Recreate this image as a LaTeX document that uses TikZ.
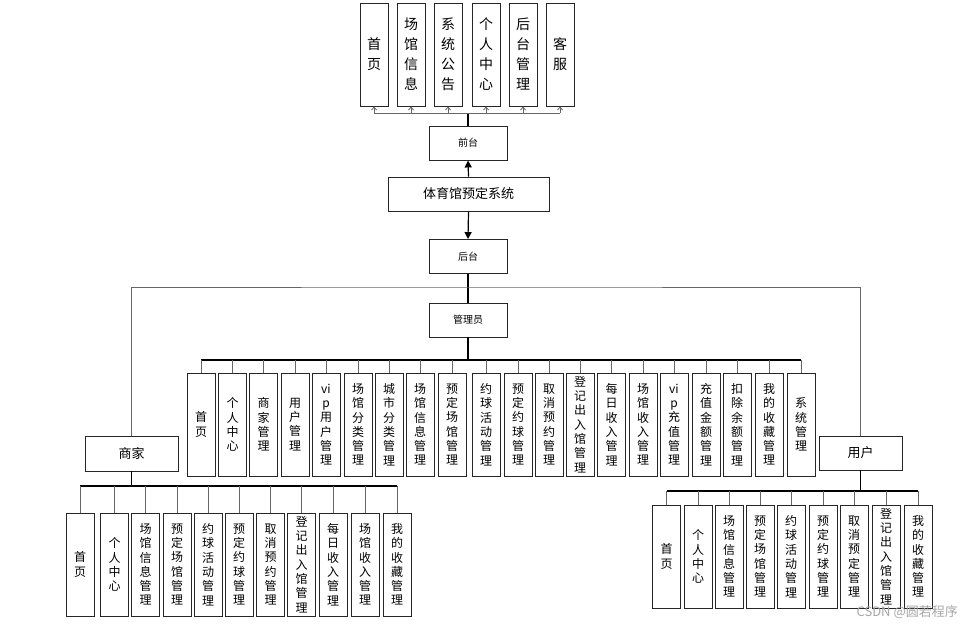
\documentclass[tikz,border=0pt]{standalone}
\usepackage{fontspec}
\setmainfont{Noto Sans CJK SC}
\usetikzlibrary{arrows.meta}
\begin{document}
\begin{tikzpicture}[x=1pt,y=-1pt,
  box/.style={draw=black!85,line width=0.9pt,fill=white,inner sep=0pt,align=center},
  vb/.style={box,minimum width=28pt,minimum height=103pt,font=\fontsize{12}{14.3}\selectfont},
  tb/.style={box,minimum width=28pt,minimum height=103pt,font=\fontsize{14}{20}\selectfont},
  sb/.style={box,minimum width=78pt,minimum height=34pt,font=\fontsize{10}{12}\selectfont},
  trunk/.style={line width=1.2pt,black},
  br/.style={line width=0.8pt,black!60}]
\useasboundingbox (0,0) rectangle (973,629);
% top
\foreach \x/\t [count=\i] in {360/首\\页,397/场\\馆\\信\\息,434/系\\统\\公\\告,472/个\\人\\中\\心,509/后\\台\\管\\理,546/客\\服}
  \node[tb] (t\i) at (\x+14,54.5) {\t};
\node[sb] (qt) at (468,143) {前台};
\node[box,minimum width=161pt,minimum height=34pt,font=\fontsize{13}{15}\selectfont] (sys) at (468.5,194) {体育馆预定系统};
\node[sb] (ht) at (468,256.5) {后台};
\node[sb] (gly) at (468,320) {管理员};
\node[box,minimum width=93pt,minimum height=35pt,font=\fontsize{13}{15}\selectfont] (sj) at (131.5,453.5) {商家};
\node[box,minimum width=83pt,minimum height=34pt,font=\fontsize{13}{15}\selectfont] (yh) at (860.5,453) {用户};
\coordinate (tbus) at (468,113);
\draw[trunk] (qt.north) -- (tbus);
\draw[br] (t1.south |- tbus) -- (t6.south |- tbus);
\foreach \i in {1,...,6} \draw[br,-{Straight Barb[length=3pt,width=5pt]}] (t\i.south |- tbus) -- (t\i.south);
\draw[trunk,-{Triangle[length=7pt,width=7pt]}] (sys.north) -- (qt.south);
\draw[trunk,-{Triangle[length=7pt,width=7pt]}] (sys.south) -- (ht.north);
\coordinate (hbus) at (468,287);
\draw[trunk] (ht.south) -- (gly.north);
\draw[br] (sj.north) |- (hbus) -| (yh.north);
% admin
\coordinate (abus) at (468,360);
\foreach \x/\t [count=\i] in {187/首\\页,218.5/个\\人\\中\\心,249.7/商\\家\\管\\理,281/用\\户\\管\\理,312/vi\\p\\用\\户\\管\\理,344/场\\馆\\分\\类\\管\\理,375/城\\市\\分\\类\\管\\理,406/场\\馆\\信\\息\\管\\理,438/预\\定\\场\\馆\\管\\理,472/约\\球\\活\\动\\管\\理,504/预\\定\\约\\球\\管\\理,535/取\\消\\预\\约\\管\\理,566/登\\记\\出\\入\\馆\\管\\理,597.6/每\\日\\收\\入\\管\\理,629/场\\馆\\收\\入\\管\\理,660/vi\\p\\充\\值\\管\\理,692/充\\值\\金\\额\\管\\理,723/扣\\除\\余\\额\\管\\理,755/我\\的\\收\\藏\\管\\理,787/系\\统\\管\\理}
  \node[vb] (a\i) at (\x+14,424.5) {\t};
\draw[trunk] (gly.south) -- (abus);
\draw[trunk] (a1.north |- abus) -- (a20.north |- abus);
\foreach \i in {1,...,20} \draw[br] (a\i.north |- abus) -- (a\i.north);
% merchant
\coordinate (sbus) at (133,486);
\foreach \x/\t [count=\i] in {66/首\\页,100.7/个\\人\\中\\心,131.7/场\\馆\\信\\息\\管\\理,163/预\\定\\场\\馆\\管\\理,194/约\\球\\活\\动\\管\\理,225/预\\定\\约\\球\\管\\理,256.7/取\\消\\预\\约\\管\\理,287.7/登\\记\\出\\入\\馆\\管\\理,319/每\\日\\收\\入\\管\\理,351/场\\馆\\收\\入\\管\\理,383/我\\的\\收\\藏\\管\\理}
  \node[vb] (m\i) at (\x+14,564.5) {\t};
\draw[trunk] (sj.south) -- (sj.south |- sbus);
\draw[trunk] (m1.north |- sbus) -- (m11.north |- sbus);
\foreach \i in {1,...,11} \draw[br] (m\i.north |- sbus) -- (m\i.north);
% user
\coordinate (ubus) at (860,491);
\foreach \x/\t [count=\i] in {652.7/首\\页,684/个\\人\\中\\心,715/场\\馆\\信\\息\\管\\理,746/预\\定\\场\\馆\\管\\理,777/约\\球\\活\\动\\管\\理,809/预\\定\\约\\球\\管\\理,840/取\\消\\预\\定\\管\\理,872/登\\记\\出\\入\\馆\\管\\理,904/我\\的\\收\\藏\\管\\理}
  \node[vb] (u\i) at (\x+14,556.5) {\t};
\draw[trunk] (yh.south) -- (yh.south |- ubus);
\draw[trunk] (u1.north |- ubus) -- (u9.north |- ubus);
\foreach \i in {1,...,9} \draw[br] (u\i.north |- ubus) -- (u\i.north);
\node[text=black!35,font=\fontsize{13}{15}\selectfont,anchor=east,inner sep=0pt] (wm) at (958,612) {CSDN @圆若程序};
\end{tikzpicture}
\end{document}
